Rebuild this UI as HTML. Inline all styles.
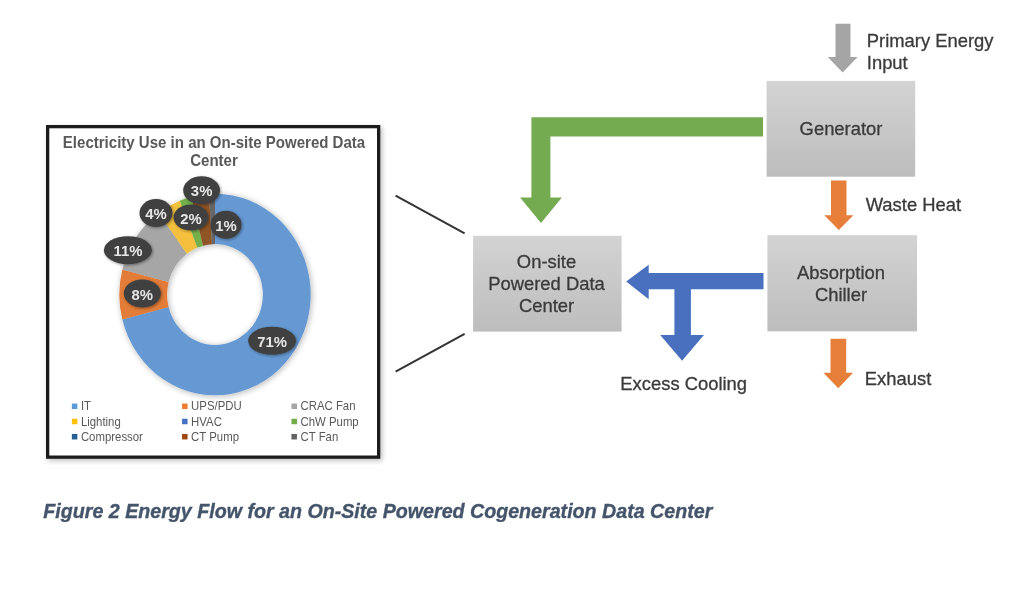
<!DOCTYPE html>
<html><head><meta charset="utf-8">
<style>
html,body{margin:0;padding:0;background:#fff;}
body{width:1024px;height:592px;overflow:hidden;position:relative;}
svg{position:absolute;left:0;top:0;filter:blur(0.45px);}
text{font-family:"Liberation Sans",sans-serif;}
.lt{font-size:15.5px;font-weight:bold;fill:#E6E6E6;}
.lg{font-size:12px;fill:#595959;}
.tt{font-size:16px;font-weight:bold;fill:#595959;}
.dt{font-size:18.4px;fill:#3A3A3A;stroke:#3A3A3A;stroke-width:0.3px;}
.cap{font-size:20px;font-weight:bold;font-style:italic;fill:#44546A;stroke:#44546A;stroke-width:0.35px;}
</style></head><body>
<svg width="1024" height="592" viewBox="0 0 1024 592">
<defs>
<filter id="sh" x="-10%" y="-10%" width="130%" height="130%">
<feGaussianBlur in="SourceAlpha" stdDeviation="2.5"/>
<feOffset dx="2" dy="2" result="b"/>
<feComponentTransfer><feFuncA type="linear" slope="0.25"/></feComponentTransfer>
<feMerge><feMergeNode/><feMergeNode in="SourceGraphic"/></feMerge>
</filter>
<filter id="ls" x="-30%" y="-30%" width="160%" height="160%">
<feGaussianBlur in="SourceAlpha" stdDeviation="1.5"/>
<feOffset dx="1" dy="1" result="b"/>
<feComponentTransfer><feFuncA type="linear" slope="0.4"/></feComponentTransfer>
<feMerge><feMergeNode/><feMergeNode in="SourceGraphic"/></feMerge>
</filter>
<filter id="ps" x="-20%" y="-20%" width="140%" height="140%">
<feGaussianBlur in="SourceAlpha" stdDeviation="3"/>
<feOffset dx="0.5" dy="1" result="b"/>
<feComponentTransfer><feFuncA type="linear" slope="0.3"/></feComponentTransfer>
<feMerge><feMergeNode/><feMergeNode in="SourceGraphic"/></feMerge>
</filter>
<linearGradient id="bx" x1="0" y1="0" x2="0" y2="1">
<stop offset="0" stop-color="#D3D3D3"/><stop offset="1" stop-color="#BDBDBD"/>
</linearGradient>
</defs>
<!-- chart box -->
<rect x="47.65" y="126.65" width="331" height="330.5" fill="#fff" stroke="#1E1E1E" stroke-width="3.3" filter="url(#sh)"/>
<text transform="translate(214,148.4) scale(0.94,1)" text-anchor="middle" class="tt">Electricity Use in an On-site Powered Data</text>
<text transform="translate(214,165.6) scale(0.94,1)" text-anchor="middle" class="tt">Center</text>
<g filter="url(#ps)">
<path d="M215.00,193.70 A95.66,100.80 0 1 1 122.35,319.57 L168.63,307.05 A47.88,50.45 0 1 0 215.00,244.05 Z" fill="#6699D2"/>
<path d="M122.35,319.57 A95.66,100.80 0 0 1 122.35,269.43 L168.63,281.95 A47.88,50.45 0 0 0 168.63,307.05 Z" fill="#E27C38"/>
<path d="M122.35,269.43 A95.66,100.80 0 0 1 158.77,212.95 L186.86,253.69 A47.88,50.45 0 0 0 168.63,281.95 Z" fill="#A6A6A6"/>
<path d="M158.77,212.95 A95.66,100.80 0 0 1 179.79,200.78 L197.38,247.59 A47.88,50.45 0 0 0 186.86,253.69 Z" fill="#F4C03C"/>
<path d="M179.79,200.78 A95.66,100.80 0 0 1 191.21,196.87 L203.09,245.63 A47.88,50.45 0 0 0 197.38,247.59 Z" fill="#74AF4C"/>
<path d="M191.21,196.87 A95.66,100.80 0 0 1 208.99,193.90 L211.99,244.15 A47.88,50.45 0 0 0 203.09,245.63 Z" fill="#8F5428"/>
<path d="M208.99,193.90 A95.66,100.80 0 0 1 215.00,193.70 L215.00,244.05 A47.88,50.45 0 0 0 211.99,244.15 Z" fill="#666666"/>
</g>
<g><ellipse cx="272.1" cy="340.8" rx="24" ry="14" fill="#404040" filter="url(#ls)"/><text transform="translate(272.1,346.8) scale(0.96,1)" text-anchor="middle" class="lt">71%</text></g>
<g><ellipse cx="142.3" cy="293.5" rx="18.5" ry="14" fill="#404040" filter="url(#ls)"/><text transform="translate(142.3,299.5) scale(0.96,1)" text-anchor="middle" class="lt">8%</text></g>
<g><ellipse cx="127.9" cy="250.2" rx="24" ry="14" fill="#404040" filter="url(#ls)"/><text transform="translate(127.9,256.2) scale(0.96,1)" text-anchor="middle" class="lt">11%</text></g>
<g><ellipse cx="156.0" cy="213.1" rx="16.5" ry="14" fill="#404040" filter="url(#ls)"/><text transform="translate(156.0,219.1) scale(0.96,1)" text-anchor="middle" class="lt">4%</text></g>
<g><ellipse cx="191.0" cy="217.5" rx="17.5" ry="13" fill="#404040" filter="url(#ls)"/><text transform="translate(191.0,223.5) scale(0.96,1)" text-anchor="middle" class="lt">2%</text></g>
<g><ellipse cx="201.6" cy="190.3" rx="18.4" ry="14" fill="#404040" filter="url(#ls)"/><text transform="translate(201.6,196.3) scale(0.96,1)" text-anchor="middle" class="lt">3%</text></g>
<g><ellipse cx="226.0" cy="224.8" rx="15.5" ry="14" fill="#404040" filter="url(#ls)"/><text transform="translate(226.0,230.8) scale(0.96,1)" text-anchor="middle" class="lt">1%</text></g>
<rect x="71.85" y="403.55" width="5.5" height="5.5" fill="#5B9BD5"/><text transform="translate(80.90,410.40) scale(0.95,1)" class="lg">IT</text>
<rect x="182.05" y="403.55" width="5.5" height="5.5" fill="#ED7D31"/><text transform="translate(191.10,410.40) scale(0.95,1)" class="lg">UPS/PDU</text>
<rect x="291.45" y="403.55" width="5.5" height="5.5" fill="#A5A5A5"/><text transform="translate(300.50,410.40) scale(0.95,1)" class="lg">CRAC Fan</text>
<rect x="71.85" y="418.75" width="5.5" height="5.5" fill="#FFC000"/><text transform="translate(80.90,425.60) scale(0.95,1)" class="lg">Lighting</text>
<rect x="182.05" y="418.75" width="5.5" height="5.5" fill="#4472C4"/><text transform="translate(191.10,425.60) scale(0.95,1)" class="lg">HVAC</text>
<rect x="291.45" y="418.75" width="5.5" height="5.5" fill="#70AD47"/><text transform="translate(300.50,425.60) scale(0.95,1)" class="lg">ChW Pump</text>
<rect x="71.85" y="433.95" width="5.5" height="5.5" fill="#255E91"/><text transform="translate(80.90,440.80) scale(0.95,1)" class="lg">Compressor</text>
<rect x="182.05" y="433.95" width="5.5" height="5.5" fill="#9E480E"/><text transform="translate(191.10,440.80) scale(0.95,1)" class="lg">CT Pump</text>
<rect x="291.45" y="433.95" width="5.5" height="5.5" fill="#636363"/><text transform="translate(300.50,440.80) scale(0.95,1)" class="lg">CT Fan</text>
<!-- connector lines -->
<line x1="395.6" y1="195.6" x2="464.6" y2="233.4" stroke="#333" stroke-width="2"/>
<line x1="395.6" y1="371.6" x2="464.6" y2="333.9" stroke="#333" stroke-width="2"/>
<!-- boxes -->
<rect x="766.6" y="80.9" width="148.6" height="95.8" fill="url(#bx)"/>
<rect x="767.4" y="235.2" width="149.6" height="96.2" fill="url(#bx)"/>
<rect x="473.1" y="235.8" width="148.5" height="95.8" fill="url(#bx)"/>
<path d="M835.5,23.8 L850.5,23.8 L850.5,57 L857.6,57 L842.6500000000001,72.6 L827.7,57 L835.5,57 Z" fill="#A5A5A5"/>
<path d="M831,180.5 L846.5,180.5 L846.5,215.3 L853.4,215.3 L838.8499999999999,230.1 L824.3,215.3 L831,215.3 Z" fill="#E57F3A"/>
<path d="M830.5,338.7 L846.2,338.7 L846.2,372.7 L853.1,372.7 L838.25,388.3 L823.4,372.7 L830.5,372.7 Z" fill="#E57F3A"/>
<path d="M763,117.3 L763,136.6 L550.4,136.6 L550.4,197.4 L561.9,197.4 L541,222.9 L520.1,197.4 L531.4,197.4 L531.4,117.3 Z" fill="#74AB50"/>
<path d="M763.5,272.9 L763.5,289.2 L690.9,289.2 L690.9,335 L703.9,335 L682.1,360.8 L660.2,335 L674.4,335 L674.4,289.2 L648.7,289.2 L648.7,299.3 L626.2,281.4 L648.7,264.7 L648.7,272.9 Z" fill="#4970BF"/>
<text x="866.8" y="47.2" class="dt">Primary Energy</text>
<text x="866.8" y="68.7" class="dt">Input</text>
<text x="841" y="135.3" text-anchor="middle" class="dt">Generator</text>
<text x="865.7" y="210.7" class="dt">Waste Heat</text>
<text x="841" y="279" text-anchor="middle" class="dt">Absorption</text>
<text x="841" y="301.3" text-anchor="middle" class="dt">Chiller</text>
<text x="546.5" y="268.2" text-anchor="middle" class="dt">On-site</text>
<text x="546.5" y="289.9" text-anchor="middle" class="dt">Powered Data</text>
<text x="546.5" y="312.3" text-anchor="middle" class="dt">Center</text>
<text x="620.3" y="390" class="dt">Excess Cooling</text>
<text x="864.8" y="384.8" class="dt">Exhaust</text>
<text x="43.3" y="517.6" class="cap" textLength="669" lengthAdjust="spacingAndGlyphs">Figure 2 Energy Flow for an On-Site Powered Cogeneration Data Center</text>
</svg>
</body></html>
